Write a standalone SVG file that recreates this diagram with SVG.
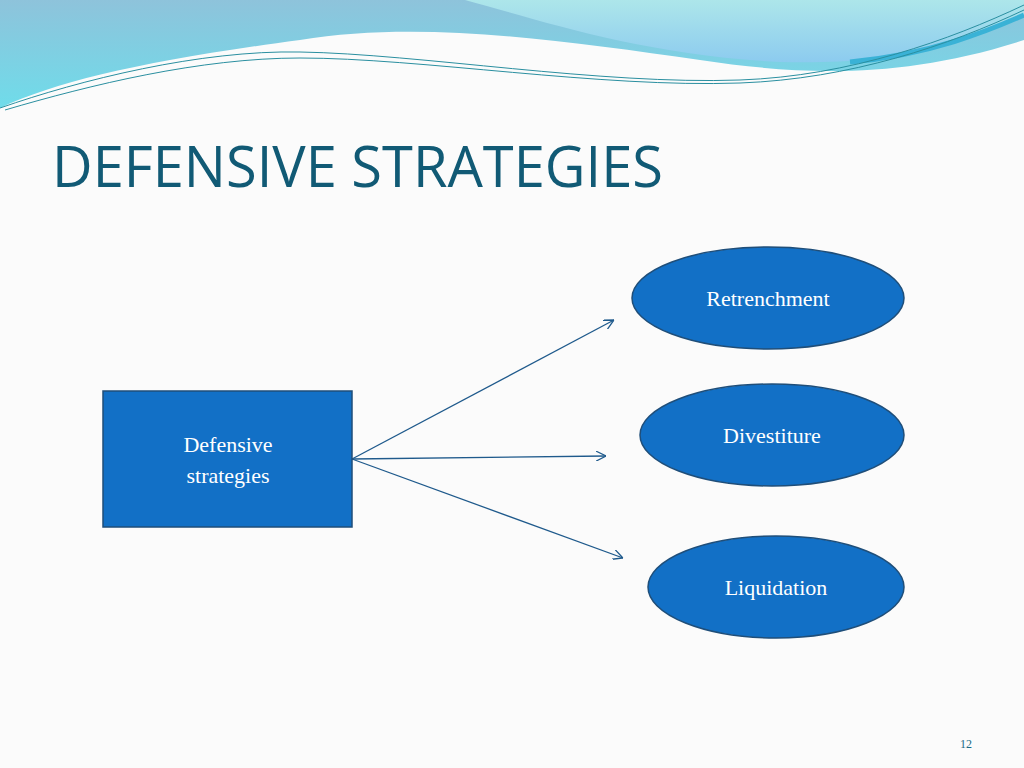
<svg xmlns="http://www.w3.org/2000/svg" width="1024" height="768" viewBox="0 0 1024 768">
<defs>
<linearGradient id="g1" x1="0" y1="0" x2="0" y2="1"><stop offset="0" stop-color="#8ec3db"/><stop offset="1" stop-color="#6fdcea"/></linearGradient>
<linearGradient id="g2" x1="0" y1="0" x2="0" y2="1"><stop offset="0" stop-color="#ade6ea"/><stop offset="1" stop-color="#8ccbef"/></linearGradient>
<marker id="ar" viewBox="0 0 10 10" refX="10" refY="5" markerWidth="10" markerHeight="10" markerUnits="userSpaceOnUse" orient="auto"><path d="M0,0 L10,5 L0,10" fill="none" stroke="#1f5a8c" stroke-width="1.3"/></marker>
<style>
.node{fill:#1270c6;stroke:#1f4e79;stroke-width:1.5}
.lbl{font-family:"Liberation Serif",serif;font-size:22px;fill:#ffffff;text-anchor:middle}
.con{stroke:#1f5a8c;stroke-width:1.3;fill:none;marker-end:url(#ar)}
</style>
</defs>
<rect width="1024" height="768" fill="#fbfbfb"/>
<g id="background">
<path d="M0,0 H1024 V40 C900,80 800,75 700,60 C560,40 420,20 300,40 C150,60 60,80 0,108 Z" fill="url(#g1)"/>
<path d="M465,0 H1024 V15 C960,45 900,65 780,62 C640,55 540,20 465,0 Z" fill="url(#g2)"/>
<path d="M850,62 C930,55 990,30 1024,15" stroke="#3ab2d6" stroke-width="5" fill="none"/>
<path d="M0,108 C80,80 200,50 300,52 C420,54 600,85 740,80 C850,76 950,40 1024,5" stroke="#2a8fa0" stroke-width="1" fill="none"/>
<path d="M5,110 C90,85 200,58 300,58 C420,58 600,88 740,83 C850,79 950,45 1024,10" stroke="#2a8fa0" stroke-width="1" fill="none"/>
</g>
<text x="52" y="187" font-family="'Open Sans','Liberation Sans',sans-serif" font-size="56" fill="#115a75">DEFENSIVE STRATEGIES</text>
<g id="connectors">
<line class="con" x1="352" y1="459" x2="614" y2="320"/>
<line class="con" x1="352" y1="459" x2="606" y2="456"/>
<line class="con" x1="352" y1="459" x2="623" y2="558"/>
</g>
<g id="n1"><rect class="node" x="103" y="391" width="249" height="136"/><text class="lbl" x="228" y="452">Defensive</text><text class="lbl" x="228" y="483">strategies</text></g>
<g id="n2"><ellipse class="node" cx="768" cy="298" rx="136" ry="51"/><text class="lbl" x="768" y="306">Retrenchment</text></g>
<g id="n3"><ellipse class="node" cx="772" cy="435" rx="132" ry="51"/><text class="lbl" x="772" y="443">Divestiture</text></g>
<g id="n4"><ellipse class="node" cx="776" cy="587" rx="128" ry="51"/><text class="lbl" x="776" y="595">Liquidation</text></g>
<text x="966" y="748" font-family="'Liberation Serif',serif" font-size="12" fill="#1a6a85" text-anchor="middle">12</text>
</svg>
